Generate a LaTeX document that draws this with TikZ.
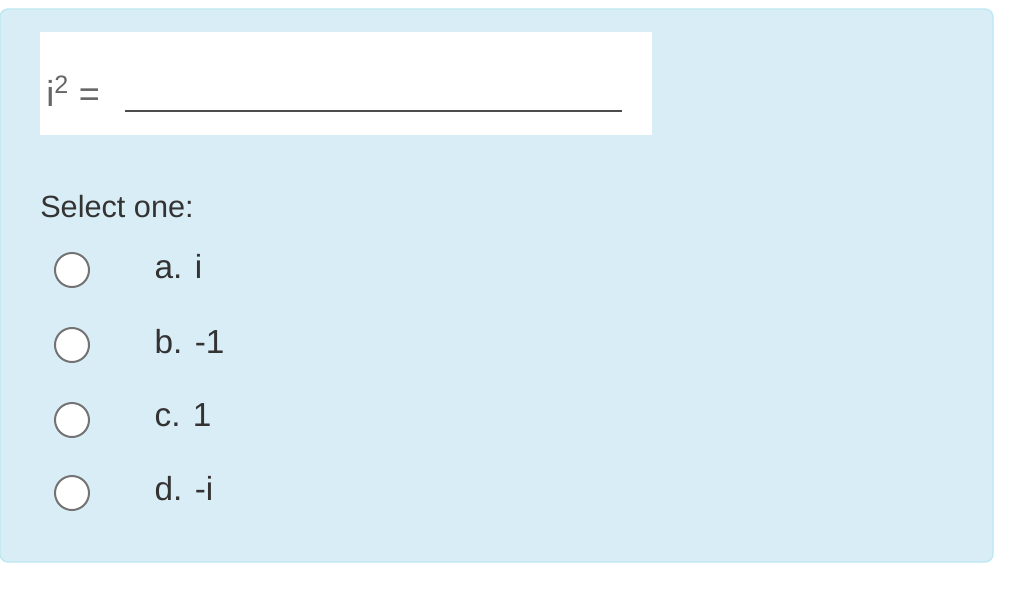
\documentclass[tikz,border=0pt]{standalone}
\usepackage{fontspec}
\setmainfont{Liberation Sans}
\begin{document}
\begin{tikzpicture}[x=0.75pt,y=-0.75pt]
\definecolor{panel}{HTML}{D9EDF7}
\definecolor{panelb}{HTML}{BCE8F1}
\definecolor{txt}{HTML}{333333}
\tikzset{opt/.style={circle,draw=black!55,line width=1.5pt,fill=white,minimum size=25.5pt,inner sep=0pt},
lab/.style={anchor=west,text=txt,font=\fontsize{25}{28}\selectfont}}
\useasboundingbox (0,0) rectangle (1036,590);
\fill[white] (0,0) rectangle (1036,590);
\draw[panelb,fill=panel,rounded corners=6pt,line width=1pt] (0,9) rectangle (993,562);
\fill[white] (40,32) rectangle (652,135);
\node[anchor=base west,text=black!60,font=\fontsize{27}{30}\selectfont,inner sep=0] (q) at (46,106) {i\textsuperscript{2} =};
\coordinate (u1) at (125,111);
\coordinate (u2) at (622,111);
\draw[black!70,line width=1.5pt] (u1) -- (u2);
\node[anchor=base west,text=txt,font=\fontsize{23}{26}\selectfont,inner sep=0] (s) at (40,217) {Select one:};
\node[opt] (c1) at (72,270) {};
\node[opt] (c2) at (72,345) {};
\node[opt] (c3) at (72,420) {};
\node[opt] (c4) at (72,493) {};
\node[lab] (l1) at (150,267) {a. i};
\node[lab] (l2) at (150,342) {b. -1};
\node[lab] (l3) at (150,415) {c. 1};
\node[lab] (l4) at (150,489) {d. -i};
\end{tikzpicture}
\end{document}
